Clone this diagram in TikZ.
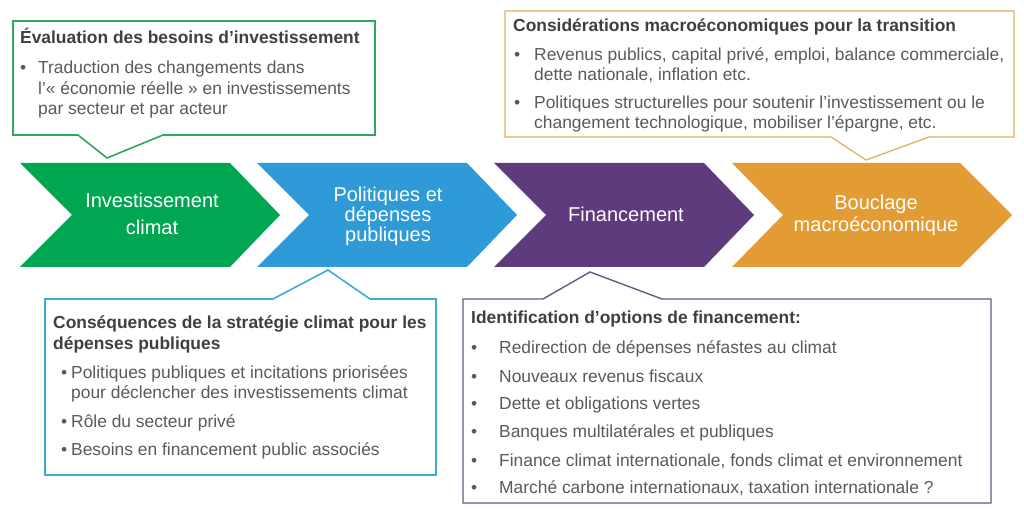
\documentclass[tikz,border=0pt]{standalone}
\usepackage{fontspec}
\setmainfont{Liberation Sans}
\definecolor{cgreen}{HTML}{00A651}
\definecolor{cblue}{HTML}{2E9AD8}
\definecolor{cpurple}{HTML}{5F3A7D}
\definecolor{corange}{HTML}{E29C33}
\definecolor{bgreen}{HTML}{2EA75C}
\definecolor{bblue}{HTML}{3FAAD9}
\definecolor{bpurple}{HTML}{6E5586}
\definecolor{borange}{HTML}{E3B062}
\definecolor{titlegray}{HTML}{3F3F3F}
\definecolor{textgray}{HTML}{5A5A5A}
\begin{document}
\begin{tikzpicture}[x=1pt,y=-1pt,
  txt/.style={anchor=base west,inner sep=0pt,font=\fontsize{17.4}{20}\selectfont,text=textgray},
  ttl/.style={anchor=base west,inner sep=0pt,font=\fontsize{17.4}{20}\selectfont\bfseries,text=titlegray},
  bul/.style={anchor=base west,inner sep=0pt,font=\fontsize{17.4}{20}\selectfont,text=textgray},
  chv/.style={anchor=base,inner sep=0pt,font=\fontsize{20}{24}\selectfont,text=white},
  box/.style={line width=1.6pt,fill=white,line join=miter}]
\useasboundingbox[fill=white] (0,0) rectangle (1024,510);

% chevrons
\fill[cgreen]  (20,163) -- (230,163) -- (280,215) -- (230,267) -- (20,267) -- (72,215) -- cycle;
\fill[cblue]   (257,163) -- (467,163) -- (517,215) -- (467,267) -- (257,267) -- (309,215) -- cycle;
\fill[cpurple] (494,163) -- (704,163) -- (754,215) -- (704,267) -- (494,267) -- (546,215) -- cycle;
\fill[corange] (732,163) -- (960,163) -- (1012,215) -- (960,267) -- (732,267) -- (783,215) -- cycle;

\node[chv] (c1a) at (152,208) {Investissement};
\node[chv] (c1b) at (152,235) {climat};
\node[chv] (c2a) at (388,202) {Politiques et};
\node[chv] (c2b) at (388,222) {dépenses};
\node[chv] (c2c) at (388,242) {publiques};
\node[chv] (c3a) at (626,222) {Financement};
\node[chv] (c4a) at (876,210) {Bouclage};
\node[chv] (c4b) at (876,232) {macroéconomique};

% callout boxes
\draw[box,draw=bgreen] (13,21) -- (375,21) -- (375,135) -- (163,135) -- (107,158) -- (78,135) -- (13,135) -- cycle;
\draw[box,draw=borange,line width=1.3pt] (505,11) -- (1014,11) -- (1014,137) -- (929,137) -- (866,160) -- (831,137) -- (505,137) -- cycle;
\draw[box,draw=bblue] (45,299) -- (273,299) -- (328,270) -- (370,299) -- (436,299) -- (436,475) -- (45,475) -- cycle;
\draw[box,draw=bpurple,line width=1.4pt] (463,299) -- (543,299) -- (590,272) -- (662,299) -- (991,299) -- (991,503) -- (463,503) -- cycle;

% green box text
\node[ttl] (g0) at (20,44) {Évaluation des besoins d’investissement};
\node[bul] (gb1) at (20,74) {•};
\node[txt] (g1) at (38,74) {Traduction des changements dans};
\node[txt] (g2) at (38,95) {l’«~économie réelle~» en investissements};
\node[txt] (g3) at (38,115) {par secteur et par acteur};

% orange box text
\node[ttl] (o0) at (513,32) {Considérations macroéconomiques pour la transition};
\node[bul] (ob1) at (514,61) {•};
\node[txt] (o1) at (534,61) {Revenus publics, capital privé, emploi, balance commerciale,};
\node[txt] (o2) at (534,81) {dette nationale, inflation etc.};
\node[bul] (ob2) at (514,109) {•};
\node[txt] (o3) at (534,109) {Politiques structurelles pour soutenir l’investissement ou le};
\node[txt] (o4) at (534,129) {changement technologique, mobiliser l'épargne, etc.};

% blue box text
\node[ttl] (b0) at (53,328) {Conséquences de la stratégie climat pour les};
\node[ttl] (b00) at (53,349) {dépenses publiques};
\node[bul] (bb1) at (61,378) {•};
\node[txt] (b1) at (71,378) {Politiques publiques et incitations priorisées};
\node[txt] (b2) at (71,398) {pour déclencher des investissements climat};
\node[bul] (bb2) at (61,427) {•};
\node[txt] (b3) at (71,427) {Rôle du secteur privé};
\node[bul] (bb3) at (61,455) {•};
\node[txt] (b4) at (71,455) {Besoins en financement public associés};

% purple box text
\node[ttl] (p0) at (471,323) {Identification d’options de financement:};
\node[bul] (pb1) at (471,353) {•};
\node[txt] (p1) at (499,353) {Redirection de dépenses néfastes au climat};
\node[bul] (pb2) at (471,382) {•};
\node[txt] (p2) at (499,382) {Nouveaux revenus fiscaux};
\node[bul] (pb3) at (471,409) {•};
\node[txt] (p3) at (499,409) {Dette et obligations vertes};
\node[bul] (pb4) at (471,437) {•};
\node[txt] (p4) at (499,437) {Banques multilatérales et publiques};
\node[bul] (pb5) at (471,466) {•};
\node[txt] (p5) at (499,466) {Finance climat internationale, fonds climat et environnement};
\node[bul] (pb6) at (471,493) {•};
\node[txt] (p6) at (499,493) {Marché carbone internationaux, taxation internationale ?};
\end{tikzpicture}
\end{document}
